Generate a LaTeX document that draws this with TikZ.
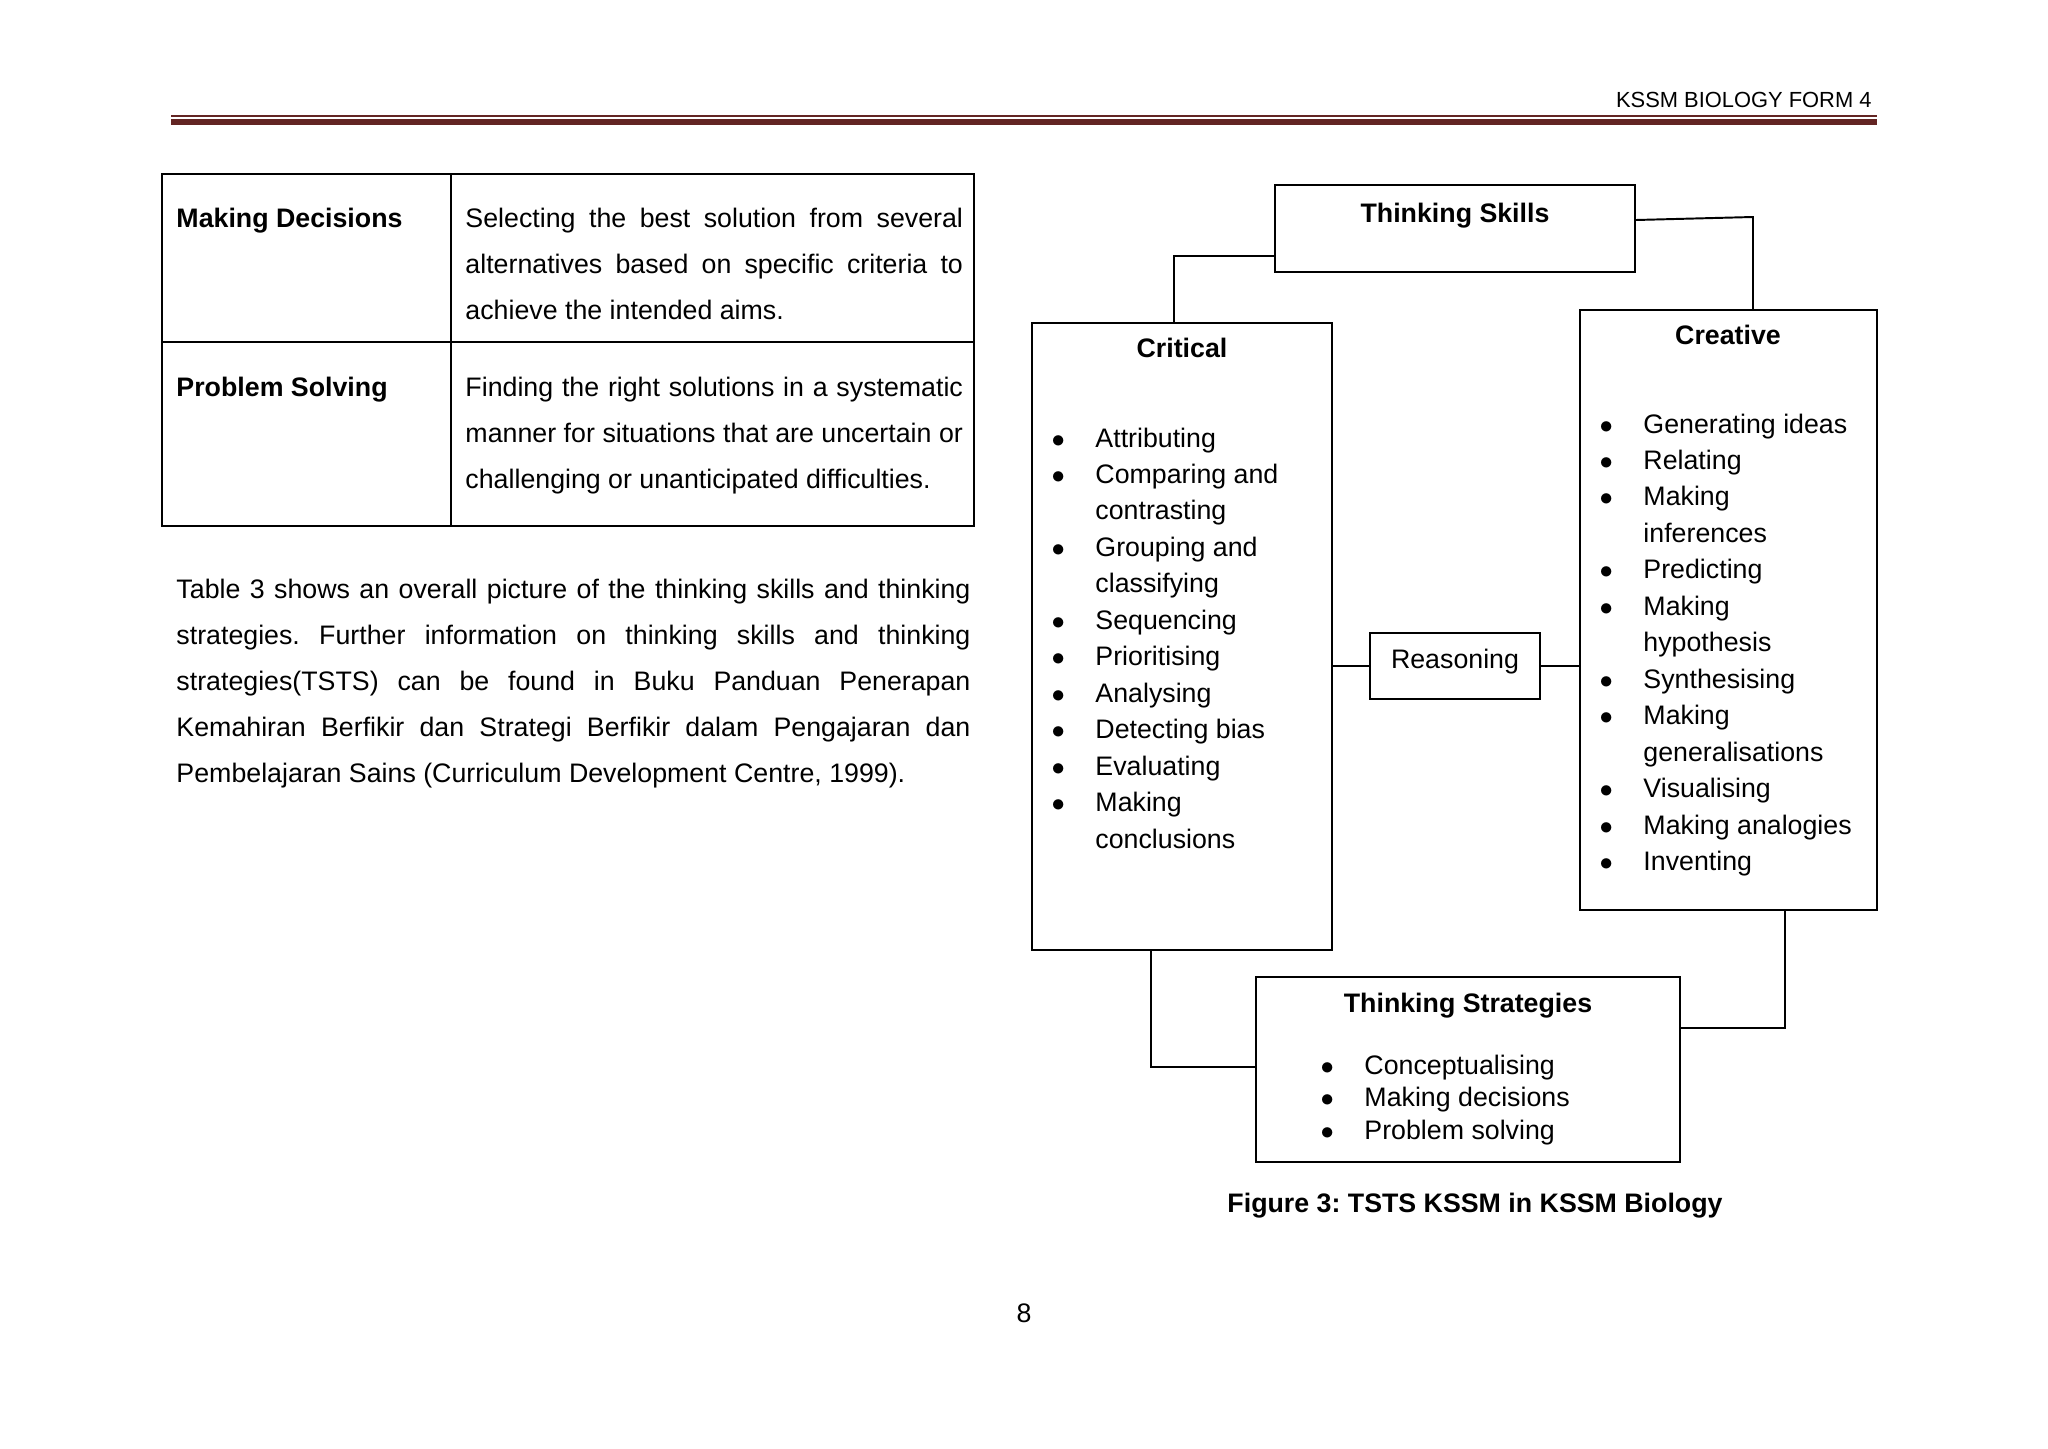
\documentclass[tikz,border=0pt]{standalone}
\usepackage{fontspec}
\setmainfont{Liberation Sans}
\usetikzlibrary{fit, positioning}
\definecolor{rulered}{RGB}{99, 37, 35}
\hyphenpenalty=10000
\exhyphenpenalty=10000
\frenchspacing
\newcommand{\bul}{$\bullet$}

\begin{document}
\begin{tikzpicture}[x=0.41108pt, y=-0.41108pt,
    box/.style={draw, rectangle, line width=0.8pt, inner sep=0pt},
    link/.style={line width=0.8pt},
    txt/.style={anchor=base west, inner sep=0pt, font=\fontsize{11}{19}\selectfont},
    head/.style={anchor=base, inner sep=0pt, font=\fontsize{11}{13}\selectfont\bfseries},
    items/.style={anchor=base west, inner sep=0pt, font=\fontsize{11}{15}\selectfont}]
    \fill[white] (0, 0) rectangle (2048, 1448);
    \useasboundingbox (0, 0) rectangle (2048, 1448);

    % page header
    \node[anchor=base east, inner sep=0pt, font=\fontsize{9}{11}\selectfont] (header) at (1872, 107) {KSSM BIOLOGY FORM 4};
    \draw[rulered, line width=0.5pt] (171, 116) -- (1877, 116);
    \draw[rulered, line width=2.7pt] (171, 122) -- (1877, 122);

    % table
    \draw[line width=0.8pt] (162, 174) rectangle (974, 526);
    \draw[line width=0.8pt] (451, 174) -- (451, 526);
    \draw[line width=0.8pt] (162, 342) -- (974, 342);
    \node[txt, font=\fontsize{11}{19}\selectfont\bfseries] (decide) at (176, 227) {Making Decisions};
    \node[txt, text width=204.5pt, align=justify] (decidetxt) at (465, 227) {Selecting the best solution from several\linebreak alternatives based on specific criteria to\linebreak achieve the intended aims.};
    \node[txt, font=\fontsize{11}{19}\selectfont\bfseries] (solve) at (176, 396) {Problem Solving};
    \node[txt, text width=204.5pt, align=justify] (solvetxt) at (465, 396) {Finding the right solutions in a systematic\linebreak manner for situations that are uncertain or\linebreak challenging or unanticipated difficulties.};

    % paragraph
    \node[txt, text width=326.4pt, align=justify] (para) at (176, 598) {Table 3 shows an overall picture of the thinking skills and thinking\linebreak strategies. Further information on thinking skills and thinking\linebreak strategies(TSTS) can be found in Buku Panduan Penerapan\linebreak Kemahiran Berfikir dan Strategi Berfikir dalam Pengajaran dan\linebreak Pembelajaran Sains (Curriculum Development Centre, 1999).};

    % boxes
    \node[box, fit={(1275, 185) (1635, 272)}] (skills) {};
    \node[box, fit={(1032, 323) (1332, 950)}] (critical) {};
    \node[box, fit={(1580, 310) (1877, 910)}] (creative) {};
    \node[box, fit={(1370, 633) (1540, 699)}] (reasoning) {};
    \node[box, fit={(1256, 977) (1680, 1162)}] (strategies) {};

    \node[head] (skillshead) at (1455, 222) {Thinking Skills};
    \node[head] (criticalhead) at (1182, 357) {Critical};
    \node[head] (creativehead) at (1728, 344) {Creative};
    \node[head, font=\fontsize{11}{13}\selectfont] (reasonhead) at (1455, 668) {Reasoning};
    \node[head] (strategyhead) at (1468, 1012) {Thinking Strategies};

    \node[items] (criticallist) at (1051, 447) {\begin{tabular}[t]{@{}l@{\hspace{12.6pt}}l@{}}
        \bul & Attributing\\
        \bul & Comparing and\\
             & contrasting\\
        \bul & Grouping and\\
             & classifying\\
        \bul & Sequencing\\
        \bul & Prioritising\\
        \bul & Analysing\\
        \bul & Detecting bias\\
        \bul & Evaluating\\
        \bul & Making\\
             & conclusions
    \end{tabular}};
    \node[items] (creativelist) at (1599, 433) {\begin{tabular}[t]{@{}l@{\hspace{12.6pt}}l@{}}
        \bul & Generating ideas\\
        \bul & Relating\\
        \bul & Making\\
             & inferences\\
        \bul & Predicting\\
        \bul & Making\\
             & hypothesis\\
        \bul & Synthesising\\
        \bul & Making\\
             & generalisations\\
        \bul & Visualising\\
        \bul & Making analogies\\
        \bul & Inventing
    \end{tabular}};
    \node[items, font=\fontsize{11}{13.4}\selectfont] (strategylist) at (1320, 1074) {\begin{tabular}[t]{@{}l@{\hspace{12.6pt}}l@{}}
        \bul & Conceptualising\\
        \bul & Making decisions\\
        \bul & Problem solving
    \end{tabular}};

    % connectors
    \coordinate (skillsleft) at (1174, 256);
    \coordinate (skillsright) at (1753, 217);
    \coordinate (criticaldown) at (1151, 1067);
    \coordinate (creativedown) at (1785, 1028);
    \draw[link] (skills.west |- skillsleft) -- (skillsleft) -- (critical.north -| skillsleft);
    \draw[link] ([yshift=-3*0.41108pt]skills.east |- skillsright) -- (skillsright) -- (creative.north -| skillsright);
    \draw[link] (critical.south -| criticaldown) -- (criticaldown) -- (strategies.west |- criticaldown);
    \draw[link] (creative.south -| creativedown) -- (creativedown) -- (strategies.east |- creativedown);
    \draw[link] (critical.east |- reasoning) -- (reasoning.west);
    \draw[link] (reasoning.east) -- (creative.west |- reasoning);

    % caption and page number
    \node[head] (caption) at (1475, 1212) {Figure 3: TSTS KSSM in KSSM Biology};
    \node[anchor=base, inner sep=0pt, font=\fontsize{11}{13}\selectfont] (pagenum) at (1024, 1322) {8};
\end{tikzpicture}
\end{document}
